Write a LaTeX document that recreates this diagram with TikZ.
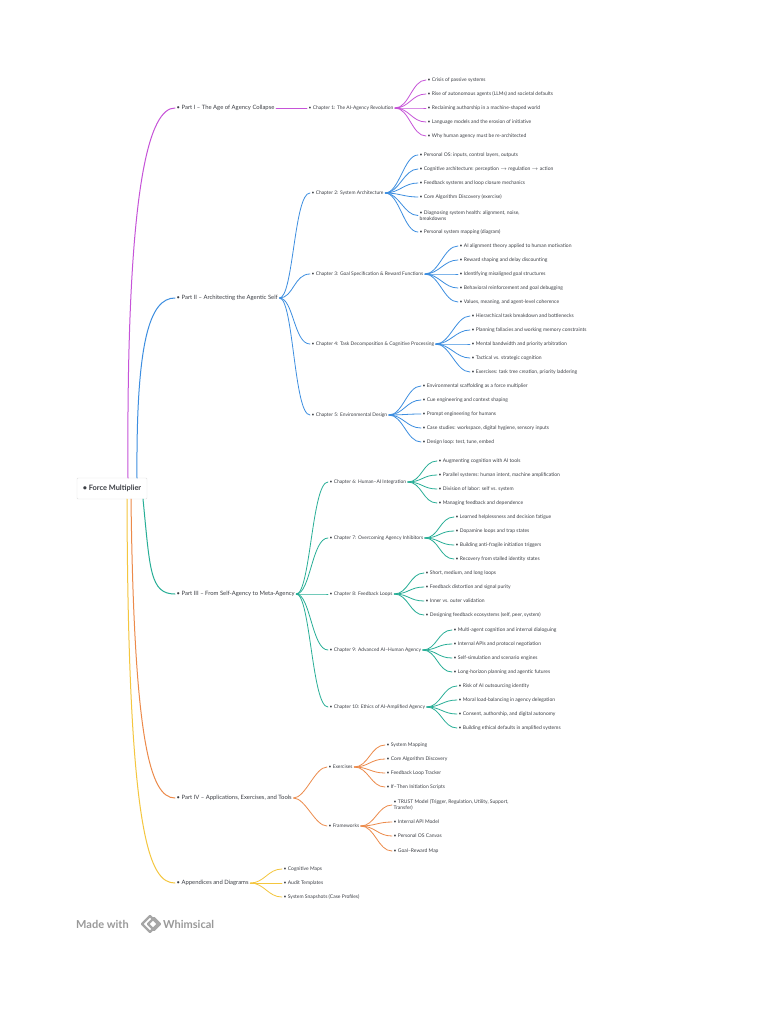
\documentclass[tikz,border=0pt]{standalone}
\usepackage{fontspec}
\setmainfont{Lato}
\begin{document}
\begin{tikzpicture}[x=1pt,y=-1pt]
\definecolor{cpur}{HTML}{C653D8}
\definecolor{cblu}{HTML}{3D8EE0}
\definecolor{ctea}{HTML}{27AE96}
\definecolor{cora}{HTML}{EC8A4A}
\definecolor{cyel}{HTML}{F4C63E}
\definecolor{ctxt}{HTML}{3C3F45}
\tikzset{
  leaf/.style={anchor=west,inner sep=1.5pt,font=\fontsize{5}{6}\selectfont,text=ctxt,align=left},
  chap/.style={anchor=west,inner sep=1.5pt,font=\fontsize{4.9}{5.8}\selectfont,text=ctxt},
  part/.style={anchor=west,inner sep=1.5pt,font=\fontsize{5.9}{7}\selectfont,text=ctxt},
  conn/.style={line width=0.8pt,line cap=round},
  trunk/.style={line width=1pt,line cap=round}
}
\useasboundingbox[fill=white] (0,0) rectangle (768,1024);
% root
\node[draw=black!12,fill=white,rounded corners=1pt,minimum width=70pt,minimum height=21pt,
  font=\fontsize{7.4}{8}\selectfont\bfseries,text=ctxt] (root) at (112,488.5) {• Force Multiplier};
% parts
\node[part] (p1) at (175,108) {• Part I – The Age of Agency Collapse};
\node[part] (p2) at (175,298) {• Part II – Architecting the Agentic Self};
\node[part] (p3) at (175,594) {• Part III – From Self-Agency to Meta-Agency};
\node[part] (p4) at (175,798) {• Part IV – Applications, Exercises, and Tools};
\node[part] (p5) at (175,883) {• Appendices and Diagrams};
\coordinate (s1) at (128,478);
\coordinate (s2) at (137,478);
\coordinate (s3) at (143,499);
\coordinate (s4) at (131,499);
\coordinate (s5) at (127,499);
\draw[trunk,cpur] (s1) .. controls (126,180) and (150,108) .. (p1.west);
\draw[trunk,cblu] (s2) .. controls (136,340) and (150,298) .. (p2.west);
\draw[trunk,ctea] (s3) .. controls (150,570) and (150,594) .. (p3.west);
\draw[trunk,cora] (s4) .. controls (134,740) and (150,798) .. (p4.west);
\draw[trunk,cyel] (s5) .. controls (128,840) and (150,883) .. (p5.west);
% chapters
\node[chap] (c1) at (307,108) {• Chapter 1: The AI-Agency Revolution};
\node[chap] (c2) at (310,193) {• Chapter 2: System Architecture};
\node[chap] (c3) at (310,274) {• Chapter 3: Goal Specification \& Reward Functions};
\node[chap] (c4) at (310,344) {• Chapter 4: Task Decomposition \& Cognitive Processing};
\node[chap] (c5) at (310,415) {• Chapter 5: Environmental Design};
\node[chap] (c6) at (328,482) {• Chapter 6: Human–AI Integration};
\node[chap] (c7) at (328,538) {• Chapter 7: Overcoming Agency Inhibitors};
\node[chap] (c8) at (328,594) {• Chapter 8: Feedback Loops};
\node[chap] (c9) at (328,650) {• Chapter 9: Advanced AI–Human Agency};
\node[chap] (c10) at (328,707) {• Chapter 10: Ethics of AI-Amplified Agency};
\node[chap] (ex) at (327,767) {• Exercises};
\node[chap] (fw) at (327,826) {• Frameworks};
\draw[conn,cpur] (p1.east) -- (c1.west);
\foreach \c in {c2,c3,c4,c5}{\draw[conn,cblu] (p2.east) .. controls +(14,0) and +(-16,0) .. (\c.west);}
\foreach \c in {c6,c7,c8,c9,c10}{\draw[conn,ctea] (p3.east) .. controls +(14,0) and +(-16,0) .. (\c.west);}
\foreach \c in {ex,fw}{\draw[conn,cora] (p4.east) .. controls +(12,0) and +(-12,0) .. (\c.west);}
% leaves
\foreach \y/\t [count=\i] in {80/{Crisis of passive systems},94/{Rise of autonomous agents (LLMs) and societal defaults},108/{Reclaiming authorship in a machine-shaped world},122/{Language models and the erosion of initiative},136/{Why human agency must be re-architected}}
 {\node[leaf] (l1-\i) at (426,\y) {• \t}; \draw[conn,cpur] (c1.east) .. controls +(14,0) and +(-14,0) .. (l1-\i.west);}
\foreach \y/\t [count=\i] in {155/{Personal OS: inputs, control layers, outputs},169/{Cognitive architecture: perception $\rightarrow$ regulation $\rightarrow$ action},183/{Feedback systems and loop closure mechanics},197/{Core Algorithm Discovery (exercise)},215.5/{Diagnosing system health: alignment, noise,\\breakdowns},232/{Personal system mapping (diagram)}}
 {\node[leaf] (l2-\i) at (418,\y) {• \t}; \draw[conn,cblu] (c2.east) .. controls +(14,0) and +(-14,0) .. (l2-\i.west|-0,\y);}
\foreach \y/\t [count=\i] in {246/{AI alignment theory applied to human motivation},260/{Reward shaping and delay discounting},274/{Identifying misaligned goal structures},288/{Behavioral reinforcement and goal debugging},302/{Values, meaning, and agent-level coherence}}
 {\node[leaf] (l3-\i) at (458,\y) {• \t}; \draw[conn,cblu] (c3.east) .. controls +(14,0) and +(-14,0) .. (l3-\i.west);}
\foreach \y/\t [count=\i] in {316/{Hierarchical task breakdown and bottlenecks},330/{Planning fallacies and working memory constraints},344/{Mental bandwidth and priority arbitration},358/{Tactical vs. strategic cognition},372/{Exercises: task tree creation, priority laddering}}
 {\node[leaf] (l4-\i) at (470,\y) {• \t}; \draw[conn,cblu] (c4.east) .. controls +(14,0) and +(-14,0) .. (l4-\i.west);}
\foreach \y/\t [count=\i] in {386/{Environmental scaffolding as a force multiplier},400/{Cue engineering and context shaping},414/{Prompt engineering for humans},428/{Case studies: workspace, digital hygiene, sensory inputs},442/{Design loop: test, tune, embed}}
 {\node[leaf] (l5-\i) at (421,\y) {• \t}; \draw[conn,cblu] (c5.east) .. controls +(14,0) and +(-14,0) .. (l5-\i.west);}
\foreach \y/\t [count=\i] in {461/{Augmenting cognition with AI tools},475/{Parallel systems: human intent, machine amplification},489/{Division of labor: self vs. system},503/{Managing feedback and dependence}}
 {\node[leaf] (l6-\i) at (437,\y) {• \t}; \draw[conn,ctea] (c6.east) .. controls +(14,0) and +(-14,0) .. (l6-\i.west);}
\foreach \y/\t [count=\i] in {517/{Learned helplessness and decision fatigue},531/{Dopamine loops and trap states},545/{Building anti-fragile initiation triggers},559/{Recovery from stalled identity states}}
 {\node[leaf] (l7-\i) at (454,\y) {• \t}; \draw[conn,ctea] (c7.east) .. controls +(14,0) and +(-14,0) .. (l7-\i.west);}
\foreach \y/\t [count=\i] in {573/{Short, medium, and long loops},587/{Feedback distortion and signal purity},601/{Inner vs. outer validation},615/{Designing feedback ecosystems (self, peer, system)}}
 {\node[leaf] (l8-\i) at (424,\y) {• \t}; \draw[conn,ctea] (c8.east) .. controls +(14,0) and +(-14,0) .. (l8-\i.west);}
\foreach \y/\t [count=\i] in {630/{Multi-agent cognition and internal dialoguing},644/{Internal APIs and protocol negotiation},658/{Self-simulation and scenario engines},672/{Long-horizon planning and agentic futures}}
 {\node[leaf] (l9-\i) at (452,\y) {• \t}; \draw[conn,ctea] (c9.east) .. controls +(14,0) and +(-14,0) .. (l9-\i.west);}
\foreach \y/\t [count=\i] in {686/{Risk of AI outsourcing identity},700/{Moral load-balancing in agency delegation},714/{Consent, authorship, and digital autonomy},728/{Building ethical defaults in amplified systems}}
 {\node[leaf] (l10-\i) at (457,\y) {• \t}; \draw[conn,ctea] (c10.east) .. controls +(14,0) and +(-14,0) .. (l10-\i.west);}
\foreach \y/\t [count=\i] in {745/{System Mapping},759/{Core Algorithm Discovery},773/{Feedback Loop Tracker},787/{If–Then Initiation Scripts}}
 {\node[leaf] (le-\i) at (385,\y) {• \t}; \draw[conn,cora] (ex.east) .. controls +(14,0) and +(-14,0) .. (le-\i.west);}
\foreach \y/\t [count=\i] in {805/{TRUST Model (Trigger, Regulation, Utility, Support,\\Transfer)},822/{Internal API Model},836/{Personal OS Canvas},851/{Goal–Reward Map}}
 {\node[leaf] (lf-\i) at (392,\y) {• \t}; \draw[conn,cora] (fw.east) .. controls +(14,0) and +(-14,0) .. (lf-\i.west|-0,\y);}
\foreach \y/\t [count=\i] in {869/{Cognitive Maps},883/{Audit Templates},897/{System Snapshots (Case Profiles)}}
 {\node[leaf] (la-\i) at (282,\y) {• \t}; \draw[conn,cyel] (p5.east) .. controls +(14,0) and +(-14,0) .. (la-\i.west);}
% footer
\node[anchor=west,inner sep=0pt,font=\fontsize{11}{12}\selectfont\bfseries,text=black!40] (mw) at (76,924) {Made with};
\begin{scope}[shift={(150,924)}]
\draw[line width=2.2pt,black!35,line join=round] (-8,0) -- (0,-8) -- (8,0) -- (0,8) -- cycle;
\draw[line width=2.2pt,black!35,line join=round] (-2,0) -- (4,-6) -- (10,0) -- (4,6) -- cycle;
\end{scope}
\node[anchor=west,inner sep=0pt,font=\fontsize{11}{12}\selectfont\bfseries,text=black!40] (wh) at (163,924) {Whimsical};
\end{tikzpicture}
\end{document}
